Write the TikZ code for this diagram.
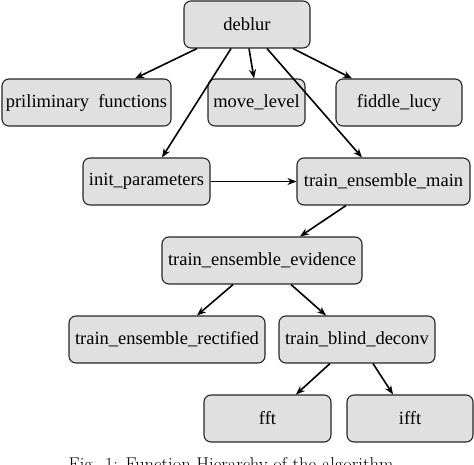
\documentclass[tikz,border=0pt]{standalone}
\usepackage{fontspec}
\setmainfont{Liberation Serif}
\newfontfamily\lmfont{Latin Modern Roman}
\usetikzlibrary{arrows.meta}
\begin{document}
\begin{tikzpicture}[x=1pt,y=-1pt,
  fbox/.style={draw=black!85,line width=1.1pt,fill=black!12,rounded corners=7pt,
    minimum height=47pt,inner sep=0pt,font=\fontsize{18.5}{21}\selectfont},
  arr/.style={line width=1.6pt,-{Stealth[length=9pt,width=7pt]}}]
\useasboundingbox (0,0) rectangle (474,465);
\node[fbox,minimum width=126pt] (deblur) at (247,24.5) {deblur};
\node[fbox,minimum width=169pt] (prelim) at (86.5,102.5) {priliminary\ \ functions};
\node[fbox,minimum width=97pt] (move) at (256.5,102.5) {move\_level};
\node[fbox,minimum width=126pt] (fiddle) at (399,102.5) {fiddle\_lucy};
\node[fbox,minimum width=127pt] (init) at (146.5,181.5) {init\_parameters};
\node[fbox,minimum width=173pt] (tem) at (383.5,181.5) {train\_ensemble\_main};
\node[fbox,minimum width=200pt] (tee) at (262,260.5) {train\_ensemble\_evidence};
\node[fbox,minimum width=196pt] (ter) at (167,339.5) {train\_ensemble\_rectified};
\node[fbox,minimum width=156pt] (tbd) at (357,339.5) {train\_blind\_deconv};
\node[fbox,minimum width=127pt] (fft) at (267.5,418.5) {fft};
\node[fbox,minimum width=126pt] (ifft) at (410,418.5) {ifft};
\node[anchor=base,font=\lmfont\fontsize{18.5}{21}\selectfont] (cap) at (231,470) {Fig. 1: Function Hierarchy of the algorithm};
\draw[arr] ([xshift=-50pt]deblur.south) -- ([xshift=48.5pt]prelim.north);
\draw[arr] ([xshift=-16pt]deblur.south) -- ([xshift=15.5pt]init.north);
\draw[arr] ([xshift=2pt]deblur.south) -- ([xshift=-2.5pt]move.north);
\draw[arr] ([xshift=20pt]deblur.south) -- ([xshift=-21.5pt]tem.north);
\draw[arr] ([xshift=46pt]deblur.south) -- ([xshift=-47pt]fiddle.north);
\draw[arr] (init.east) -- (tem.west);
\draw[arr] ([xshift=-37.5pt]tem.south) -- ([xshift=38pt]tee.north);
\draw[arr] ([xshift=-29pt]tee.south) -- ([xshift=30pt]ter.north);
\draw[arr] ([xshift=29pt]tee.south) -- ([xshift=-31pt]tbd.north);
\draw[arr] ([xshift=-27pt]tbd.south) -- ([xshift=28.5pt]fft.north);
\draw[arr] ([xshift=16pt]tbd.south) -- ([xshift=-17pt]ifft.north);
\end{tikzpicture}
\end{document}
